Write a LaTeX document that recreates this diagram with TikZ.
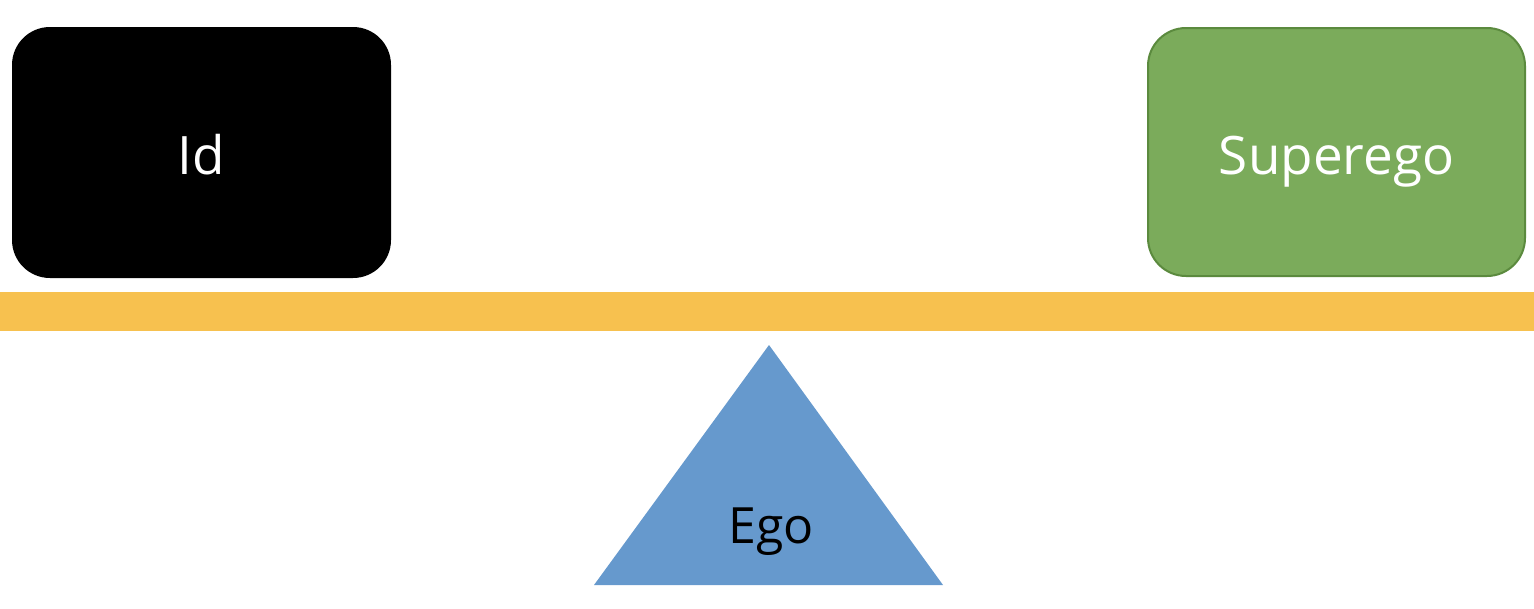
\documentclass[tikz,border=0pt]{standalone}
\usepackage{fontspec}
\setmainfont{Open Sans}
\definecolor{greenfill}{HTML}{7BAB5B}
\definecolor{greenedge}{HTML}{5B8A3E}
\definecolor{barorange}{HTML}{F7C14F}
\definecolor{egoblue}{HTML}{6699CD}
\begin{document}
\begin{tikzpicture}[x=1pt,y=-1pt,
  box/.style={rounded corners=38pt, inner sep=0pt},
  boxtext/.style={inner sep=0pt, anchor=base, text=white, font=\fontsize{53}{60}\selectfont},
  lbl/.style={inner sep=0pt, anchor=base, font=\fontsize{50}{56}\selectfont}]
\useasboundingbox (0,0) rectangle (1534,608);
\fill[barorange] (0,292) rectangle (1534,331);
\node[box, fill=black, minimum width=379pt, minimum height=251pt] (id) at (201.5,152.5) {};
\node[boxtext] (idtext) at ([yshift=-21.5pt]id.center) {Id};
\node[box, fill=greenfill, draw=greenedge, line width=2pt, minimum width=377pt, minimum height=248pt] (superego) at (1336.5,152) {};
\node[boxtext] (superegotext) at ([yshift=-22pt]superego.center) {Superego};
\fill[egoblue] (769,345) -- (943,585) -- (594,585) -- cycle;
\node[lbl] (ego) at (771,543) {Ego};
\end{tikzpicture}
\end{document}
